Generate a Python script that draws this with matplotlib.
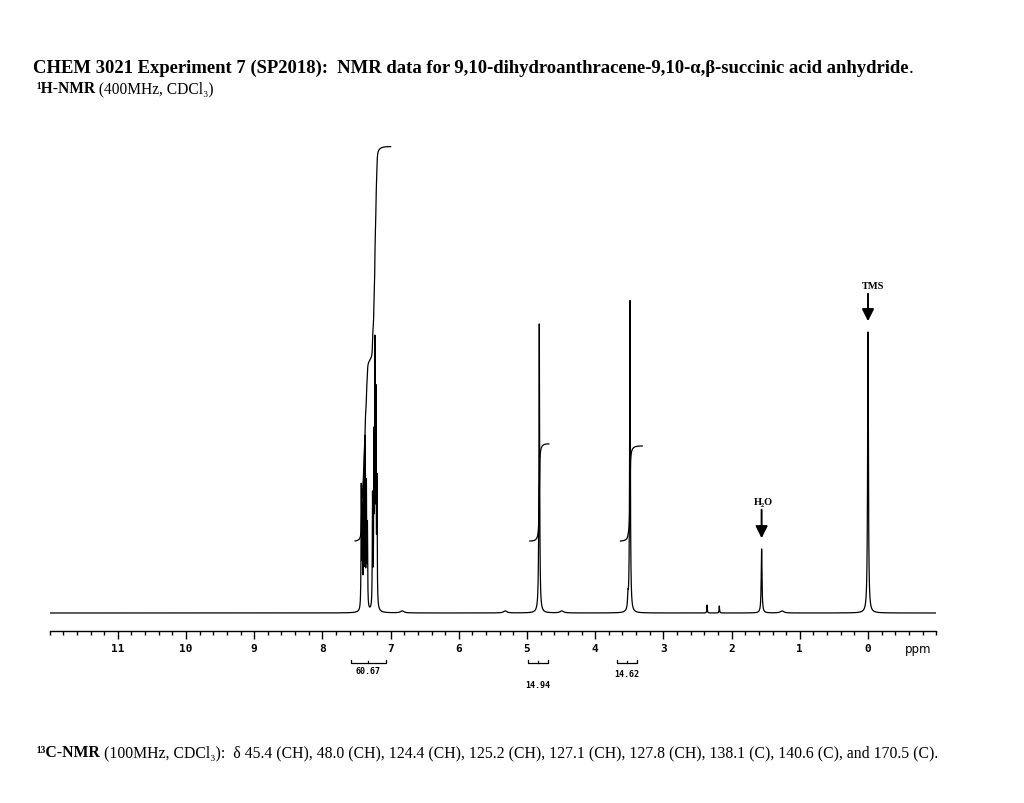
import numpy as np
import matplotlib
matplotlib.use('Agg')
import matplotlib.pyplot as plt
from matplotlib.ticker import MultipleLocator

# peak table: shift (ppm), height (arb.), half width (ppm)
peak_ppm = [7.43, 7.415, 7.395, 7.375, 7.355, 7.34,
            7.265, 7.245, 7.23, 7.215, 7.20,
            4.82, 3.49, 3.52, 2.36, 2.18, 1.56, 0.0,
            6.83, 5.32, 4.49, 1.26]
peak_height = [120, 95, 130, 165, 120, 80,
               110, 160, 250, 200, 120,
               289, 312, 12, 8, 7, 64, 281,
               2, 2, 2, 2]
peak_hwhm = [0.004] * 11 + [0.006, 0.006, 0.006, 0.004, 0.004, 0.007, 0.007,
                            0.03, 0.03, 0.03, 0.03]

# integrals: region (ppm from, to), value
int_from = [7.52, 4.96, 3.63]
int_to = [7.00, 4.68, 3.31]
int_value = [60.67, 14.94, 14.62]
int_bracket = [(7.58, 7.07), (4.99, 4.69), (3.68, 3.39)]

tick_labels = ['11', '10', '9', '8', '7', '6', '5', '4', '3', '2', '1', '0']

title = 'CHEM 3021 Experiment 7 (SP2018):  NMR data for 9,10-dihydroanthracene-9,10-α,β-succinic acid anhydride'
c13 = '(100MHz, CDCl₃):  δ 45.4 (CH), 48.0 (CH), 124.4 (CH), 125.2 (CH), 127.1 (CH), 127.8 (CH), 138.1 (C), 140.6 (C), and 170.5 (C).'

SERIF = ['Liberation Serif', 'DejaVu Serif']
MONO = ['DejaVu Sans Mono']

fig = plt.figure(figsize=(10.24, 8.04), dpi=100)
ax = fig.add_axes([49.6 / 1024, 1 - 632 / 804, 886.6 / 1024, 500 / 804])

ppm = np.linspace(12, -1, 26001)
spec = np.zeros_like(ppm)
for c, h, w in zip(peak_ppm, peak_height, peak_hwhm):
    spec += h / (1 + ((ppm - c) / w) ** 2)
ax.plot(ppm, spec, color='black', lw=0.9)

# integral traces
scale = 6.5
for a, b, v in zip(int_from, int_to, int_value):
    m = (ppm <= a) & (ppm >= b)
    cum = np.cumsum(spec[m] - spec[m].min())
    cum = cum / cum[-1]
    ax.plot(ppm[m], 72 + cum * v * scale, color='black', lw=0.9)

# integral brackets and values
label_y = [-58, -72, -61]
for (a, b), v, ly in zip(int_bracket, int_value, label_y):
    ax.plot([a, a, b, b], [-47, -50, -50, -47], color='black', lw=0.9, clip_on=False)
    ax.plot([(a + b) / 2] * 2, [-50, -47.5], color='black', lw=0.9, clip_on=False)
    ax.text((a + b) / 2, ly, '%.2f' % v, ha='center', va='center', fontsize=6,
            family=MONO, fontweight='bold', clip_on=False)

# TMS and water labels
ax.annotate('', xy=(0.0, 289), xytext=(0.0, 322),
            arrowprops=dict(arrowstyle='-|>', color='black', lw=1.4, mutation_scale=18))
ax.text(-0.07, 327, 'TMS', ha='center', va='center', fontsize=7.5, fontweight='bold', family=SERIF)
ax.annotate('', xy=(1.56, 72), xytext=(1.56, 106),
            arrowprops=dict(arrowstyle='-|>', color='black', lw=1.4, mutation_scale=18))
ax.text(1.54, 111, 'H₂O', ha='center', va='center', fontsize=7.5, fontweight='bold', family=SERIF)

ax.set_xlim(12, -1)
ax.set_ylim(-18, 482)
for s in ['top', 'left', 'right']:
    ax.spines[s].set_visible(False)
ax.spines['bottom'].set_linewidth(1.0)
ax.set_yticks([])
ax.set_xticks(range(11, -1, -1))
ax.set_xticklabels(tick_labels, family=MONO, fontweight='bold', fontsize=8)
ax.xaxis.set_minor_locator(MultipleLocator(0.2))
ax.tick_params(axis='x', which='major', direction='out', length=6, width=1, pad=3)
ax.tick_params(axis='x', which='minor', direction='out', length=3, width=1)
ax.text(-0.73, -29, 'ppm', ha='center', va='top', fontsize=8.5, family=['DejaVu Sans'], clip_on=False)


def draw_runs(x, y, runs, size):
    r = fig.canvas.get_renderer()
    for s, w in runs:
        t = fig.text(x, y, s, fontsize=size, fontweight=w, family=SERIF, va='baseline')
        x += t.get_window_extent(r).width / fig.bbox.width


draw_runs(33 / 1024, 1 - 73 / 804, [(title, 'bold'), ('.', 'normal')], 13.4)
draw_runs(36 / 1024, 1 - 93 / 804, [('¹H-NMR', 'bold'), (' (400MHz, CDCl₃)', 'normal')], 11.2)
draw_runs(36 / 1024, 1 - 757 / 804, [('¹³C-NMR', 'bold'), (' ' + c13, 'normal')], 11.3)

fig.savefig('out.png', dpi=100)
